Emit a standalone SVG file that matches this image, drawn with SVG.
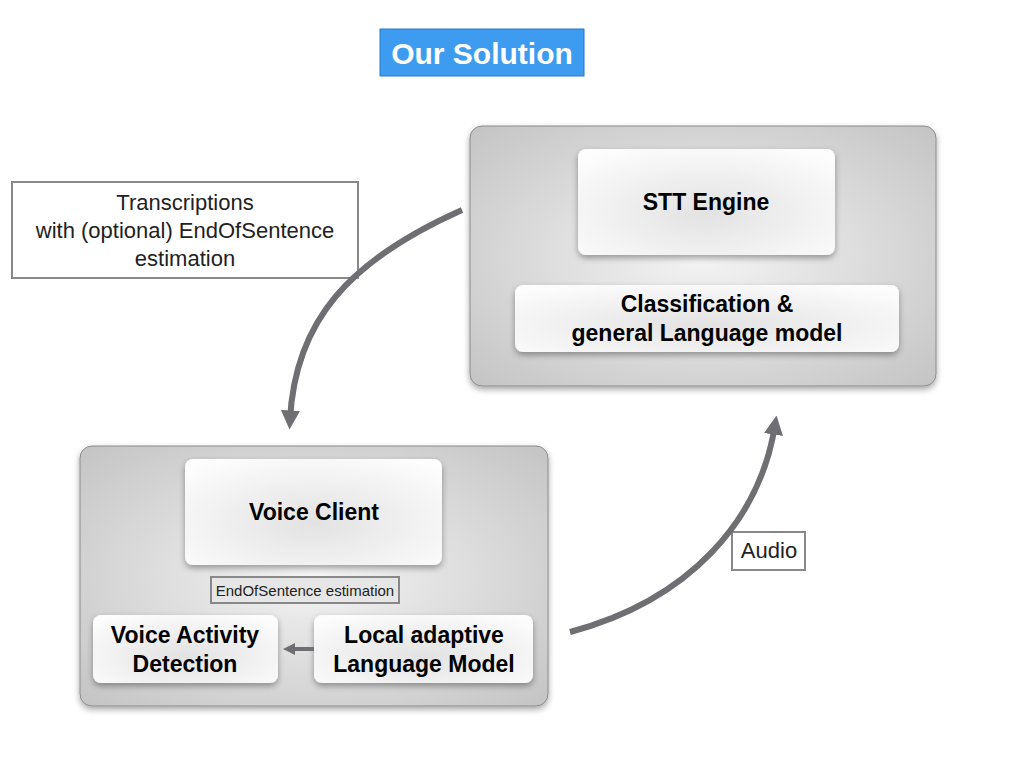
<svg xmlns="http://www.w3.org/2000/svg" width="1024" height="768" viewBox="0 0 1024 768">
<defs>
<radialGradient id="panel" cx="0.5" cy="0.5" r="0.7"><stop offset="0" stop-color="#f4f4f4"/><stop offset="1" stop-color="#c4c4c4"/></radialGradient>
<radialGradient id="box" cx="0.5" cy="0.6" r="0.7"><stop offset="0" stop-color="#e2e2e2"/><stop offset="1" stop-color="#fdfdfd"/></radialGradient>
<filter id="sh" x="-10%" y="-10%" width="120%" height="130%"><feDropShadow dx="0" dy="3" stdDeviation="3" flood-opacity="0.35"/></filter>
<marker id="ah" viewBox="0 0 10 10" refX="5" refY="5" markerWidth="3.2" markerHeight="3.2" orient="auto"><path d="M0,0 L10,5 L0,10 z" fill="#6f6f73"/></marker>
<marker id="ah2" viewBox="0 0 10 10" refX="5" refY="5" markerWidth="3" markerHeight="3" orient="auto"><path d="M0,0 L10,5 L0,10 z" fill="#6f6f73"/></marker>
</defs>
<style>
.p{fill:url(#panel);stroke:#8a8a8a;stroke-width:1}
.b{fill:url(#box);filter:url(#sh)}
.t{font-family:"Liberation Sans",Arial,sans-serif;font-weight:bold;font-size:23px;fill:#000;text-anchor:middle}
.l{font-family:"Liberation Sans",Arial,sans-serif;font-size:22px;fill:#222;text-anchor:middle}
</style>
<rect x="0" y="0" width="1024" height="768" fill="#fff"/>
<g id="title"><rect x="380" y="29" width="204" height="47" fill="#3d9cf0" stroke="#2a78c8"/><text x="482" y="64" class="t" style="font-size:30px;fill:#fff">Our Solution</text></g>
<g id="server"><rect x="470" y="126" width="466" height="260" rx="12" class="p" filter="url(#sh)"/>
<rect x="578" y="149" width="257" height="106" rx="8" class="b"/><text x="706" y="210" class="t">STT Engine</text>
<rect x="515" y="285" width="384" height="67" rx="8" class="b"/><text x="707" y="312" class="t">Classification &amp;</text><text x="707" y="341" class="t">general Language model</text></g>
<g id="client"><rect x="80" y="446" width="468" height="260" rx="12" class="p" filter="url(#sh)"/>
<rect x="185" y="459" width="257" height="106" rx="8" class="b"/><text x="314" y="520" class="t">Voice Client</text>
<rect x="211" y="577" width="188" height="26" fill="#e6e6e6" stroke="#888" stroke-width="2"/><text x="305" y="596" class="l" style="font-size:15px">EndOfSentence estimation</text>
<rect x="93" y="615" width="185" height="68" rx="8" class="b"/><text x="185" y="643" class="t">Voice Activity</text><text x="185" y="672" class="t">Detection</text>
<rect x="314" y="615" width="219" height="68" rx="8" class="b"/><text x="424" y="643" class="t">Local adaptive</text><text x="424" y="672" class="t">Language Model</text></g>
<g id="labels"><rect x="12" y="182" width="346" height="96" fill="#fff" stroke="#888" stroke-width="2"/>
<text x="185" y="210" class="l">Transcriptions</text><text x="185" y="238" class="l">with (optional) EndOfSentence</text><text x="185" y="266" class="l">estimation</text>
<rect x="732" y="532" width="73" height="38" fill="#fff" stroke="#888" stroke-width="2"/><text x="769" y="558" class="l">Audio</text></g>
<g id="connectors" fill="none" stroke="#6f6f73">
<path d="M462,210 C350,260 295,320 290,420" stroke-width="6" marker-end="url(#ah)"/>
<path d="M570,632 C690,600 760,520 775,425" stroke-width="6" marker-end="url(#ah)"/>
<path d="M314,649 L289,649" stroke-width="4" marker-end="url(#ah2)"/>
</g>
</svg>
